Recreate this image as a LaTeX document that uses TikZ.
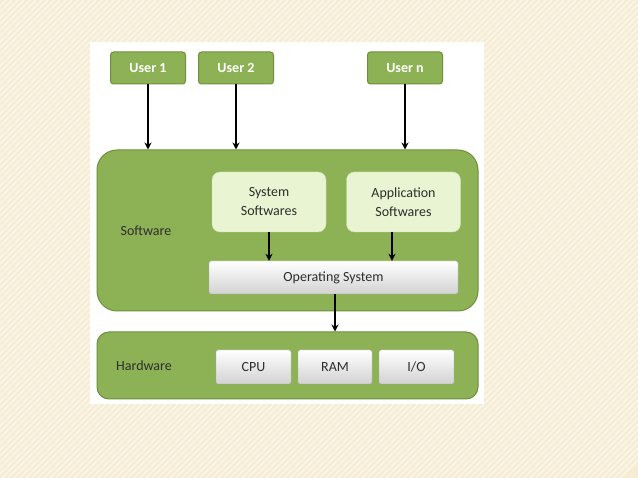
\documentclass[tikz,border=0pt]{standalone}
\usepackage{fontspec}
\setmainfont{Carlito}
\usetikzlibrary{arrows.meta}
\definecolor{bg}{HTML}{F6EBD3}
\definecolor{grn}{HTML}{8DB255}
\definecolor{grnd}{HTML}{6F8F3C}
\definecolor{lgrn}{HTML}{E8F4D2}
\definecolor{txt}{HTML}{2E2E2E}
\tikzset{
  user/.style={draw=grnd, line width=1pt, fill=grn, rounded corners=3pt, minimum width=75pt, minimum height=32pt, text=white, font=\bfseries\fontsize{14}{16}\selectfont},
  big/.style={draw=grnd, line width=1pt, fill=grn, rounded corners=20pt},
  soft/.style={draw=lgrn!70!grn, fill=lgrn, rounded corners=8pt, minimum width=114pt, minimum height=60pt, align=center, text=txt, font=\fontsize{14}{19}\selectfont},
  gbox/.style={draw=gray!70, top color=white, bottom color=gray!35, rounded corners=2pt, text=txt, font=\fontsize{14}{16}\selectfont},
  lbl/.style={text=txt, font=\fontsize{14}{16}\selectfont},
  arr/.style={-{Stealth[length=7pt,width=7pt]}, line width=1.6pt, black}
}
\begin{document}
\begin{tikzpicture}[x=1pt,y=-1pt]
\useasboundingbox (0,0) rectangle (638,478);
\fill[bg] (0,0) rectangle (638,478);
\foreach \i in {0,6,...,1100} \draw[white!55!bg, line width=1.5pt] (\i-478,478) -- (\i,0);
\fill[white] (90,42) rectangle (484,404);
\node[user] (u1) at (148,68) {User 1};
\node[user] (u2) at (236,68) {User 2};
\node[user] (un) at (405,68) {User n};
\node[big, minimum width=381pt, minimum height=161pt] (sw) at (287.5,230.5) {};
\node[lbl] (swl) at (146,231) {Software};
\node[soft] (ss) at (269,202) {System\\Softwares};
\node[soft] (as) at (403.5,202) {Application\\Softwares};
\node[gbox, minimum width=249pt, minimum height=33pt] (os) at (333.5,277.5) {Operating System};
\node[big, minimum width=381pt, minimum height=67pt, rounded corners=12pt] (hw) at (287.5,365.5) {};
\node[lbl] (hwl) at (144,366) {Hardware};
\node[gbox, minimum width=75pt, minimum height=34pt] (cpu) at (253.5,367) {CPU};
\node[gbox, minimum width=74pt, minimum height=34pt] (ram) at (335,367) {RAM};
\node[gbox, minimum width=75pt, minimum height=34pt] (io) at (416.5,367) {I/O};
\draw[arr] (u1) -- (u1 |- sw.north);
\draw[arr] (u2) -- (u2 |- sw.north);
\draw[arr] (un) -- (un |- sw.north);
\draw[arr] (ss) -- (ss |- os.north);
\draw[arr] (as.south -| 392,0) -- (392,0 |- os.north);
\draw[arr] (os.south -| 335,0) -- (335,0 |- hw.north);
\end{tikzpicture}
\end{document}
